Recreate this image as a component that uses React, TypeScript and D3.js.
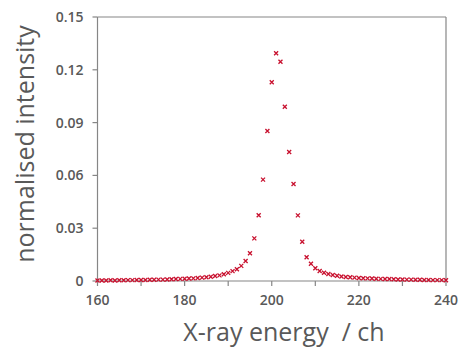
import React from "react";
import * as d3 from "d3";

const channels: number[] = [
  160, 161, 162, 163, 164, 165, 166, 167, 168, 169,
  170, 171, 172, 173, 174, 175, 176, 177, 178, 179,
  180, 181, 182, 183, 184, 185, 186, 187, 188, 189,
  190, 191, 192, 193, 194, 195, 196, 197, 198, 199,
  200, 201, 202, 203, 204, 205, 206, 207, 208, 209,
  210, 211, 212, 213, 214, 215, 216, 217, 218, 219,
  220, 221, 222, 223, 224, 225, 226, 227, 228, 229,
  230, 231, 232, 233, 234, 235, 236, 237, 238, 239, 240,
];

const intensity: number[] = [
  0.0003, 0.0003, 0.0003, 0.0004, 0.0003, 0.0004, 0.0004, 0.0005, 0.0005, 0.0006,
  0.0006, 0.0006, 0.0007, 0.0007, 0.0008, 0.0008, 0.0009, 0.001, 0.0011, 0.0012,
  0.0013, 0.0014, 0.0015, 0.0017, 0.0019, 0.0021, 0.0024, 0.0028, 0.0032, 0.0038,
  0.0046, 0.0056, 0.0067, 0.0086, 0.0114, 0.0158, 0.0242, 0.0374, 0.0576, 0.0852,
  0.1129, 0.1294, 0.1246, 0.099, 0.0733, 0.0551, 0.0373, 0.0223, 0.0135, 0.0098,
  0.0072, 0.0057, 0.0047, 0.004, 0.0034, 0.003, 0.0026, 0.0023, 0.0021, 0.0019,
  0.0017, 0.0016, 0.0015, 0.0014, 0.0013, 0.0012, 0.0011, 0.0011, 0.001, 0.0009,
  0.0009, 0.0008, 0.0008, 0.0007, 0.0007, 0.0006, 0.0006, 0.0005, 0.0005, 0.0005, 0.0004,
];

const xTicks: number[] = [160, 170, 180, 190, 200, 210, 220, 230, 240];
const xLabels: number[] = [160, 180, 200, 220, 240];
const yTicks: number[] = [0, 0.03, 0.06, 0.09, 0.12, 0.15];

const W = 474;
const H = 355;
const left = 97.5;
const right = 446;
const top = 17;
const bottom = 281;

export default function App() {
  const x = d3.scaleLinear().domain([160, 240]).range([left, right]);
  const y = d3.scaleLinear().domain([0, 0.15]).range([bottom, top]);
  const axisColor = "#868686";
  const textColor = "#595959";
  const font = "'Open Sans', 'Liberation Sans', sans-serif";
  const red = "#c8102e";
  const s = 2;
  return (
    <svg
      width={W}
      height={H}
      style={{ position: "absolute", left: 0, top: 0, background: "#fff" }}
      fontFamily={font}
    >
      <line x1={left} x2={right} y1={top} y2={top} stroke={axisColor} strokeWidth={1.2} />
      <line x1={right} x2={right} y1={top} y2={bottom} stroke={axisColor} strokeWidth={1.2} />
      <line x1={left} x2={left} y1={top} y2={bottom} stroke={axisColor} strokeWidth={1.2} />
      <line x1={left} x2={right} y1={bottom} y2={bottom} stroke={axisColor} strokeWidth={1.2} />
      {yTicks.map((t) => (
        <g key={"y" + t}>
          <line x1={left - 5} x2={left} y1={y(t)} y2={y(t)} stroke={axisColor} strokeWidth={1.2} />
          <text
            x={left - 14}
            y={y(t)}
            dy="0.35em"
            textAnchor="end"
            fontSize={14}
            fontWeight={600}
            fill={textColor}
          >
            {t === 0 ? "0" : t.toFixed(2)}
          </text>
        </g>
      ))}
      {xTicks.map((t) => (
        <line key={"x" + t} x1={x(t)} x2={x(t)} y1={bottom} y2={bottom + 5} stroke={axisColor} strokeWidth={1.2} />
      ))}
      {xLabels.map((t) => (
        <text
          key={"xl" + t}
          x={x(t)}
          y={bottom + 24}
          textAnchor="middle"
          fontSize={14}
          fontWeight={600}
          fill={textColor}
        >
          {t}
        </text>
      ))}
      {channels.map((c, i) => {
        const cx = x(c);
        const cy = y(intensity[i]);
        return (
          <path
            key={"m" + c}
            d={`M${cx - s},${cy - s}L${cx + s},${cy + s}M${cx - s},${cy + s}L${cx + s},${cy - s}`}
            stroke={red}
            strokeWidth={1.3}
            fill="none"
          />
        );
      })}
      <text
        x={284}
        y={341}
        textAnchor="middle"
        fontSize={25}
        fill={textColor}
        xmlSpace="preserve"
      >
        X-ray energy  / ch
      </text>
      <text
        transform={`translate(34, ${144}) rotate(-90)`}
        textAnchor="middle"
        fontSize={25}
        fill={textColor}
      >
        normalised intensity
      </text>
    </svg>
  );
}
